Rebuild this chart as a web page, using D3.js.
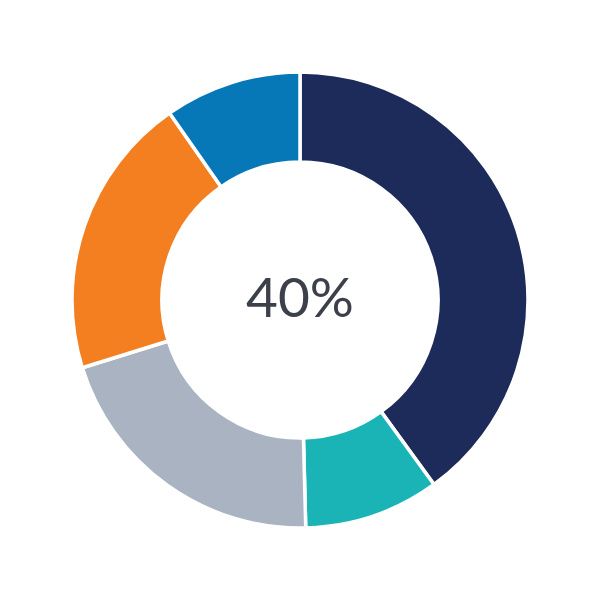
<!DOCTYPE html>
<html>
<head>
<meta charset="utf-8">
<script src="https://cdn.jsdelivr.net/npm/d3@7"></script>
<style>
  html, body { margin: 0; padding: 0; background: #fff; }
  svg { display: block; }
</style>
</head>
<body>
<svg id="donut" width="600" height="600"></svg>
<script>
// segment data, clockwise from 12 o'clock
const categories = ['A', 'B', 'C', 'D', 'E'];
const values = [40, 9.6, 20.6, 20.1, 9.7];
const colors = ['#1c2b5a', '#1ab4b6', '#a9b3c1', '#f37f21', '#0677b7'];
const centerLabel = '40%';

const width = 600, height = 600;
const outerR = 228, innerR = 138;

const svg = d3.select('#donut');
const g = svg.append('g').attr('transform', `translate(${width / 2}, ${height / 2})`);

const pie = d3.pie().sort(null).value(d => d.value);
const arc = d3.arc().innerRadius(innerR).outerRadius(outerR);
const color = d3.scaleOrdinal().domain(categories).range(colors);

const data = categories.map((c, i) => ({ cat: c, value: values[i] }));

g.selectAll('path')
  .data(pie(data))
  .enter()
  .append('path')
  .attr('d', arc)
  .attr('fill', d => color(d.data.cat))
  .attr('stroke', '#fff')
  .attr('stroke-width', 3.5);

g.append('text')
  .attr('text-anchor', 'middle')
  .attr('y', 17)
  .attr('font-family', 'Lato, "Open Sans", sans-serif')
  .attr('font-weight', 400)
  .attr('font-size', 55)
  .attr('fill', '#3b404b')
  .text(centerLabel);
</script>
</body>
</html>
